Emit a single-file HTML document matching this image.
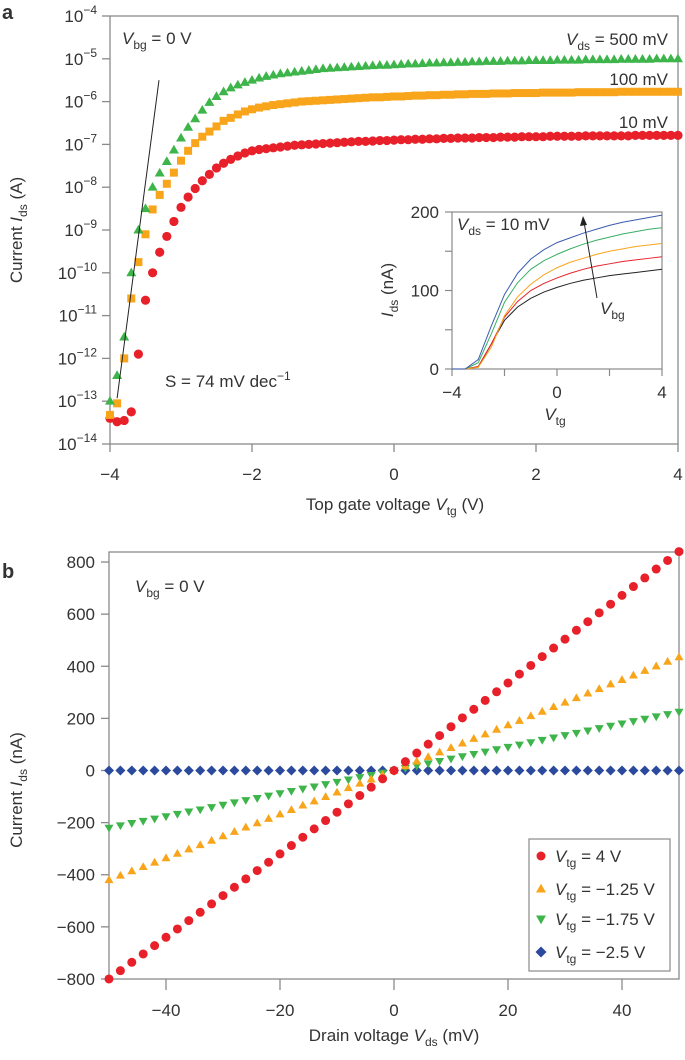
<!DOCTYPE html>
<html><head><meta charset="utf-8"><style>
html,body{margin:0;padding:0;background:#fff;}
svg{display:block;font-family:"Liberation Sans",sans-serif;}
text{fill:#333;}
</style></head><body>
<svg id="fig" width="685" height="1060" viewBox="0 0 685 1060"></svg>
<script>
// ===== Panel a data =====
const vtg = Array.from({length:81},(_,i)=>Math.round((-4+i*0.1)*10)/10);
const logI10mV = [-13.4,-13.48,-13.45,-13.25,-11.9,-10.64,-10.0,-9.52,-9.15,-8.8,-8.47,-8.23,-8.03,-7.85,-7.7,-7.55,-7.44,-7.35,-7.27,-7.2,-7.15,-7.12,-7.1,-7.08,-7.06,-7.04,-7.02,-7.01,-7.0,-6.99,-6.98,-6.97,-6.96,-6.95,-6.94,-6.93,-6.93,-6.92,-6.91,-6.91,-6.9,-6.89,-6.89,-6.88,-6.88,-6.87,-6.87,-6.86,-6.86,-6.85,-6.85,-6.85,-6.84,-6.84,-6.84,-6.83,-6.83,-6.83,-6.82,-6.82,-6.82,-6.82,-6.81,-6.81,-6.81,-6.81,-6.81,-6.8,-6.8,-6.8,-6.8,-6.8,-6.8,-6.8,-6.79,-6.79,-6.79,-6.79,-6.79,-6.79,-6.79];
const logI100mV = [-13.32,-13.05,-12.0,-10.6,-9.75,-9.1,-8.52,-8.18,-7.92,-7.66,-7.38,-7.15,-6.97,-6.82,-6.7,-6.58,-6.45,-6.38,-6.3,-6.23,-6.18,-6.14,-6.11,-6.08,-6.06,-6.04,-6.02,-6.0,-5.99,-5.98,-5.97,-5.96,-5.95,-5.94,-5.93,-5.92,-5.91,-5.9,-5.9,-5.89,-5.88,-5.88,-5.87,-5.86,-5.86,-5.85,-5.85,-5.84,-5.84,-5.83,-5.83,-5.82,-5.82,-5.82,-5.81,-5.81,-5.81,-5.8,-5.8,-5.8,-5.8,-5.79,-5.79,-5.79,-5.79,-5.79,-5.78,-5.78,-5.78,-5.78,-5.78,-5.78,-5.77,-5.77,-5.77,-5.77,-5.77,-5.77,-5.77,-5.77,-5.77];
const logI500mV = [-13.0,-12.4,-11.5,-10.0,-9.0,-8.5,-8.0,-7.67,-7.4,-7.13,-6.85,-6.6,-6.4,-6.2,-6.02,-5.88,-5.77,-5.68,-5.61,-5.55,-5.5,-5.45,-5.41,-5.38,-5.35,-5.33,-5.31,-5.29,-5.27,-5.25,-5.23,-5.22,-5.21,-5.2,-5.19,-5.18,-5.17,-5.16,-5.15,-5.15,-5.14,-5.13,-5.12,-5.12,-5.11,-5.1,-5.1,-5.09,-5.09,-5.08,-5.08,-5.07,-5.07,-5.06,-5.06,-5.06,-5.05,-5.05,-5.05,-5.04,-5.04,-5.04,-5.04,-5.03,-5.03,-5.03,-5.03,-5.02,-5.02,-5.02,-5.02,-5.02,-5.01,-5.01,-5.01,-5.01,-5.01,-5.0,-5.0,-5.0,-5.0];
const aXTicks = [-4,-2,0,2,4];
const aYTicks = [-4,-5,-6,-7,-8,-9,-10,-11,-12,-13,-14];
const slopeV = [-3.9,-3.31];
const slopeLog = [-12.93,-5.5];
// inset
const insetV = [-4,-3.5,-3,-2.5,-2,-1.5,-1,-0.5,0,0.5,1,1.5,2,2.5,3,3.5,4];
const insetBlue = [0,0,12,55,95,122,140,152,161,167,173,178,183,187,190,193,196];
const insetGreen = [0,0,8,45,85,110,127,138,146,153,159,164,168,172,175,178,180];
const insetOrange = [0,0,2,28,68,92,108,120,129,136,141,146,150,153,156,158,160];
const insetRed = [0,0,3,32,66,86,100,109,116,122,127,131,134,137,139,141,143];
const insetBlack = [0,0,3,32,62,79,90,98,104,109,113,116,119,121,123,125,127];
const insetXTicks = [-4,-2,0,2,4];
const insetXLabels = ["−4","","0","","4"];
const insetYTicks = [0,50,100,150,200];
const insetYLabels = ["0","","100","","200"];
// ===== Panel b data =====
const vds = Array.from({length:51},(_,i)=>-50+i*2);
const iVtg4 = [-800,-768,-736,-704,-672,-640,-608,-576,-544,-512,-480,-448,-416,-384,-352,-320,-288,-256,-224,-192,-160,-128,-96,-64,-32,0,34,67,101,134,168,202,235,269,302,336,370,403,437,470,504,538,571,605,638,672,706,739,773,806,840];
const iVtgM125 = [-420,-403,-386,-370,-353,-336,-319,-302,-286,-269,-252,-235,-218,-202,-185,-168,-151,-134,-118,-101,-84,-67,-50,-34,-17,0,17,35,52,70,87,104,122,139,157,174,191,209,226,244,261,278,296,313,331,348,365,383,400,418,435];
const iVtgM175 = [-220,-211,-202,-194,-185,-176,-167,-158,-150,-141,-132,-123,-114,-106,-97,-88,-79,-70,-62,-53,-44,-35,-26,-18,-9,0,9,18,27,36,45,54,63,72,81,90,99,108,117,126,135,144,153,162,171,180,189,198,207,216,225];
const iVtgM25 = [0,0,0,0,0,0,0,0,0,0,0,0,0,0,0,0,0,0,0,0,0,0,0,0,0,0,0,0,0,0,0,0,0,0,0,0,0,0,0,0,0,0,0,0,0,0,0,0,0,0,0];
const bXTicks = [-40,-20,0,20,40];
const bYTicks = [800,600,400,200,0,-200,-400,-600,-800];

const NS="http://www.w3.org/2000/svg";
const svg=document.getElementById('fig');
function mk(tag,attrs,parent){const e=document.createElementNS(NS,tag);for(const k in attrs)e.setAttribute(k,attrs[k]);(parent||svg).appendChild(e);return e;}
const RED="#e8202a",ORG="#f8a51c",GRN="#3db54a",BLU="#2b4a9e",AX="#8a8a8a";

const aX=v=>110+(v+4)*71;
const aY=l=>16+(-4-l)*42.8;
const iX=v=>452+(v+4)*26.25;
const iY=n=>369-n*0.785;
const bX=v=>394+v*5.7;
const bY=n=>770.5-n*0.2606;

function circle(g,x,y,r,c,name){const e=mk('circle',{cx:x,cy:y,r:r,fill:c},g);

}
function square(g,x,y,s,c,name){const e=mk('rect',{x:x-s/2,y:y-s/2,width:s,height:s,fill:c},g);

}
function tri(g,x,y,s,c,up,name){const h=s*0.87;const p=up?`${x},${y-h*0.6} ${x-s/2},${y+h*0.4} ${x+s/2},${y+h*0.4}`:`${x},${y+h*0.6} ${x-s/2},${y-h*0.4} ${x+s/2},${y-h*0.4}`;
const e=mk('polygon',{points:p,fill:c},g);

}
function diamond(g,x,y,s,c,name){const e=mk('polygon',{points:`${x},${y-s/2} ${x+s/2},${y} ${x},${y+s/2} ${x-s/2},${y}`,fill:c},g);

}

// ===== Panel a =====
const ga=mk('g',{});


ga.innerHTML=`<text x="2" y="19" font-size="20" font-weight="bold" fill="#222">a</text>
<rect x="110" y="16" width="568" height="428" fill="none" stroke="${AX}" stroke-width="1.3"/>
<text x="122" y="44" font-size="17"><tspan font-style="italic">V</tspan><tspan font-size="12" dy="5">bg</tspan><tspan dy="-5"> = 0 V</tspan></text>
<text x="668" y="45" font-size="17" text-anchor="end"><tspan font-style="italic">V</tspan><tspan font-size="12" dy="5">ds</tspan><tspan dy="-5"> = 500 mV</tspan></text>
<text x="668" y="85" font-size="17" text-anchor="end">100 mV</text>
<text x="668" y="128" font-size="17" text-anchor="end">10 mV</text>
<text x="165" y="387" font-size="17">S = 74 mV dec<tspan font-size="12" dy="-7">−1</tspan></text>
<text x="395" y="510" font-size="17" text-anchor="middle">Top gate voltage <tspan font-style="italic">V</tspan><tspan font-size="12" dy="5">tg</tspan><tspan dy="-5"> (V)</tspan></text>
<text transform="translate(22,230) rotate(-90)" font-size="17" text-anchor="middle">Current <tspan font-style="italic">I</tspan><tspan font-size="12" dy="5">ds</tspan><tspan dy="-5"> (A)</tspan></text>`;
svg.appendChild(ga);
aYTicks.forEach(l=>{const y=aY(l);
 const t=mk('line',{x1:102,x2:110,y1:y,y2:y,stroke:AX,'stroke-width':1.3},ga);
 
 
 const tx=mk('text',{x:97,y:y+6,'font-size':17,'text-anchor':'end'},ga);
 
 
 tx.innerHTML=`10<tspan font-size="12" dy="-8">−${-l}</tspan>`;});
aXTicks.forEach(v=>{const x=aX(v);
 const t=mk('line',{x1:x,x2:x,y1:444,y2:452,stroke:AX,'stroke-width':1.3},ga);
 
 
 const tx=mk('text',{x:x,y:480,'font-size':17,'text-anchor':'middle'},ga);
 
 
 tx.textContent=(v<0?'−':'')+Math.abs(v);});
const ma=mk('g',{},ga);


vtg.forEach((v,i)=>circle(ma,aX(v),aY(logI10mV[i]),4.6,RED,'point-10mv'));
vtg.forEach((v,i)=>square(ma,aX(v),aY(logI100mV[i]),8,ORG,'point-100mv'));
vtg.forEach((v,i)=>tri(ma,aX(v),aY(logI500mV[i]),10,GRN,true,'point-500mv'));
const sl=mk('line',{x1:aX(slopeV[0]),y1:aY(slopeLog[0]),x2:aX(slopeV[1]),y2:aY(slopeLog[1]),stroke:'#222','stroke-width':1},ga);



// inset
const gi=mk('g',{},ga);


const ib=mk('rect',{x:452,y:212,width:210,height:157,fill:'#fff',stroke:AX,'stroke-width':1.2},gi);


insetYTicks.forEach((n,i)=>{const y=iY(n);
 const t=mk('line',{x1:445,x2:452,y1:y,y2:y,stroke:AX,'stroke-width':1.2},gi);
 
 
 if(insetYLabels[i]){const tx=mk('text',{x:439,y:y+6,'font-size':17,'text-anchor':'end'},gi);
 
 
 tx.textContent=insetYLabels[i];}});
insetXTicks.forEach((v,i)=>{const x=iX(v);
 const t=mk('line',{x1:x,x2:x,y1:369,y2:376,stroke:AX,'stroke-width':1.2},gi);
 
 
 if(insetXLabels[i]){const tx=mk('text',{x:x,y:398,'font-size':17,'text-anchor':'middle'},gi);
 
 
 tx.textContent=insetXLabels[i];}});
[[insetBlack,'#222','inset-line-black'],[insetRed,RED,'inset-line-red'],[insetOrange,ORG,'inset-line-orange'],[insetGreen,'#3aae63','inset-line-green'],[insetBlue,'#3b5bb0','inset-line-blue']].forEach(([arr,c,nm])=>{
 const pl=mk('polyline',{points:insetV.map((v,i)=>iX(v)+','+iY(arr[i])).join(' '),fill:'none',stroke:c,'stroke-width':1},gi);
 
 });
const itxt=mk('g',{},gi);


itxt.innerHTML=`<text x="457" y="230" font-size="17"><tspan font-style="italic">V</tspan><tspan font-size="12" dy="5">ds</tspan><tspan dy="-5"> = 10 mV</tspan></text>
<line x1="597" y1="298" x2="584" y2="222" stroke="#222" stroke-width="1"/>
<polygon points="583,216 580,226 587,225" fill="#222"/>
<text x="600" y="314" font-size="17"><tspan font-style="italic">V</tspan><tspan font-size="12" dy="5">bg</tspan></text>
<text x="555" y="420" font-size="17" text-anchor="middle"><tspan font-style="italic">V</tspan><tspan font-size="12" dy="5">tg</tspan></text>
<text transform="translate(393,290) rotate(-90)" font-size="17" text-anchor="middle"><tspan font-style="italic">I</tspan><tspan font-size="12" dy="5">ds</tspan><tspan dy="-5"> (nA)</tspan></text>`;

// ===== Panel b =====
const gb=mk('g',{});


gb.innerHTML=`<text x="2" y="578" font-size="20" font-weight="bold" fill="#222">b</text>
<rect x="109" y="552" width="570" height="427" fill="none" stroke="${AX}" stroke-width="1.3"/>
<text x="135" y="592" font-size="17"><tspan font-style="italic">V</tspan><tspan font-size="12" dy="5">bg</tspan><tspan dy="-5"> = 0 V</tspan></text>
<text x="394" y="1041" font-size="17" text-anchor="middle">Drain voltage <tspan font-style="italic">V</tspan><tspan font-size="12" dy="5">ds</tspan><tspan dy="-5"> (mV)</tspan></text>
<text transform="translate(22,790) rotate(-90)" font-size="17" text-anchor="middle">Current <tspan font-style="italic">I</tspan><tspan font-size="12" dy="5">ds</tspan><tspan dy="-5"> (nA)</tspan></text>`;
svg.appendChild(gb);
bYTicks.forEach(n=>{const y=bY(n);
 const t=mk('line',{x1:101,x2:109,y1:y,y2:y,stroke:AX,'stroke-width':1.3},gb);
 
 
 const tx=mk('text',{x:95,y:y+6,'font-size':17,'text-anchor':'end'},gb);
 
 
 tx.textContent=(n<0?'−':'')+Math.abs(n);});
bXTicks.forEach(v=>{const x=bX(v);
 const t=mk('line',{x1:x,x2:x,y1:979,y2:990,stroke:AX,'stroke-width':1.3},gb);
 
 
 const tx=mk('text',{x:x,y:1016,'font-size':17,'text-anchor':'middle'},gb);
 
 
 tx.textContent=(v<0?'−':'')+Math.abs(v);});
const mb=mk('g',{},gb);


vds.forEach((v,i)=>diamond(mb,bX(v),bY(iVtgM25[i]),10,BLU,'point-vtg-m2.5'));
vds.forEach((v,i)=>tri(mb,bX(v),bY(iVtgM175[i]),9,GRN,false,'point-vtg-m1.75'));
vds.forEach((v,i)=>tri(mb,bX(v),bY(iVtgM125[i]),9,ORG,true,'point-vtg-m1.25'));
vds.forEach((v,i)=>circle(mb,bX(v),bY(iVtg4[i]),4.5,RED,'point-vtg-4'));
const lg=mk('g',{},gb);


const lr=mk('rect',{x:529,y:839,width:141,height:132,fill:'#fff',stroke:AX,'stroke-width':1.2},lg);


const legTxt=['= 4 V','= −1.25 V','= −1.75 V','= −2.5 V'];
const legY=[856,889,919,952];
legY.forEach((y,i)=>{
 if(i===0)circle(lg,541,y,4.5,RED,'legend-marker-vtg-4');
 if(i===1)tri(lg,541,y,10,ORG,true,'legend-marker-vtg-m1.25');
 if(i===2)tri(lg,541,y,10,GRN,false,'legend-marker-vtg-m1.75');
 if(i===3)diamond(lg,541,y,11,BLU,'legend-marker-vtg-m2.5');
 const tx=mk('text',{x:555,y:y+6,'font-size':17},lg);
 
 
 tx.innerHTML=`<tspan font-style="italic">V</tspan><tspan font-size="12" dy="5">tg</tspan><tspan dy="-5"> ${legTxt[i]}</tspan>`;});
</script>
</body></html>
